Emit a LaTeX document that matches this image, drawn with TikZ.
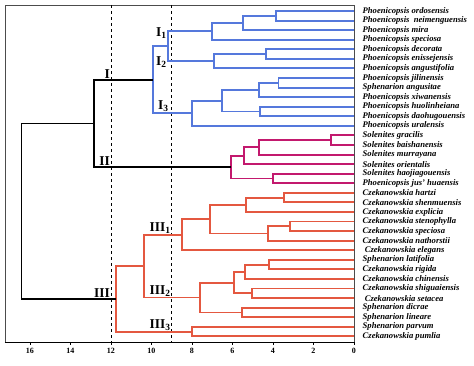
\documentclass[tikz,border=0pt]{standalone}
\usepackage{fontspec}
\setmainfont{Liberation Serif}
\usetikzlibrary{calc}

\definecolor{clblue}{RGB}{85,120,220}
\definecolor{clmag}{RGB}{195,25,110}
\definecolor{clred}{RGB}{228,88,64}

% join two subtrees at height #3
\newcommand{\dlink}[5][black]{%
  \coordinate (#2m) at ($(#4)!.5!(#5)$);
  \coordinate (#2h) at (#3,0);
  \coordinate (#2) at (#2h |- #2m);
  \draw[branch, #1] (#4) -| (#2) |- (#5);
}

\begin{document}
\begin{tikzpicture}[x=-20.25pt, y=-9.57pt,
  branch/.style={line width=1.9pt},
  leaf/.style={anchor=west, inner sep=0pt, xshift=8.5pt,
    font=\fontsize{8.6}{10}\selectfont\bfseries\itshape},
  grp/.style={font=\fontsize{13.5}{14}\selectfont\bfseries, inner sep=1pt},
  tick/.style={font=\fontsize{8}{9}\selectfont\bfseries, inner sep=2pt}]
  \useasboundingbox (17.481,-1.1494) rectangle (-5.926,36.991);

  \draw[gray!60!black, line width=0.9pt] (17.235,34.587) |- (0,-0.627) -- (0,34.587);
  \draw[line width=1pt] (17.235,34.587) -- (0,34.587);
  \foreach \d in {0,2,...,16}
    \draw[line width=0.8pt] (\d,34.587) -- ++(0,0.35) node[below, tick] {\d};

  \coordinate (v12) at (12,0);
  \coordinate (v9) at (9,0);
  \draw[dashed, line width=0.8pt] (12,-0.627) -- (12,34.587);
  \draw[dashed, line width=0.8pt] (9,-0.627) -- (9,34.587);

  \foreach \sp [count=\i] in {Phoenicopsis ordosensis, Phoenicopsis\ \ neimenguensis,
      Phoenicopsis mira, Phoenicopsis speciosa, Phoenicopsis decorata,
      Phoenicopsis enissejensis, Phoenicopsis angustifolia, Phoenicopsis jilinensis,
      Sphenarion angusitae, Phoenicopsis xiwanensis, Phoenicopsis huolinheiana,
      Phoenicopsis daohugouensis, Phoenicopsis uralensis, Solenites gracilis,
      Solenites baishanensis, Solenites murrayana, Solenites orientalis,
      Solenites haojiagouensis, Phoenicopsis jus' huaensis, Czekanowskia hartzi,
      Czekanowskia shenmuensis, Czekanowskia explicia, Czekanowskia stenophylla,
      Czekanowskia speciosa, Czekanowskia nathorstii, {\ Czekanowskia elegans},
      Sphenarion latifolia, Czekanowskia rigida, Czekanowskia chinensis,
      Czekanowskia shiguaiensis, {\ Czekanowskia setacea}, Sphenarion dicrae,
      Sphenarion lineare, Sphenarion parvum, Czekanowskia pumlia}{
    \coordinate (l\i) at (0,\i-1);
    \node[leaf] (t\i) at (l\i) {\sp};
  }

  % group I
  \dlink[clblue]{a12}{3.85}{l1}{l2}
  \dlink[clblue]{a123}{5.46}{a12}{l3}
  \dlink[clblue]{I1}{6.99}{a123}{l4}
  \dlink[clblue]{b56}{4.35}{l5}{l6}
  \dlink[clblue]{I2}{6.93}{b56}{l7}
  \dlink[clblue]{I12}{9.2}{I1}{I2}
  \dlink[clblue]{c89}{3.73}{l8}{l9}
  \dlink[clblue]{c810}{4.71}{c89}{l10}
  \dlink[clblue]{c1112}{4.62}{l11}{l12}
  \dlink[clblue]{c812}{6.5}{c810}{c1112}
  \dlink[clblue]{I3}{8.0}{c812}{l13}
  \dlink[clblue]{Igrp}{9.94}{I12}{I3}
  % group II
  \dlink[clmag]{d1415}{1.15}{l14}{l15}
  \dlink[clmag]{d16}{4.67}{d1415}{l16}
  \dlink[clmag]{d17}{5.41}{d16}{l17}
  \dlink[clmag]{d1819}{4.02}{l18}{l19}
  \dlink[clmag]{II}{6.07}{d17}{d1819}
  \dlink{III12x}{12.82}{Igrp}{II}
  % group III
  \dlink[clred]{e2021}{3.44}{l20}{l21}
  \dlink[clred]{e22}{5.33}{e2021}{l22}
  \dlink[clred]{e2324}{3.14}{l23}{l24}
  \dlink[clred]{e25}{4.23}{e2324}{l25}
  \dlink[clred]{e2025}{7.11}{e22}{e25}
  \dlink[clred]{III1}{8.5}{e2025}{l26}
  \dlink[clred]{f2728}{4.2}{l27}{l28}
  \dlink[clred]{f29}{5.37}{f2728}{l29}
  \dlink[clred]{f3031}{5.05}{l30}{l31}
  \dlink[clred]{f2731}{5.93}{f29}{f3031}
  \dlink[clred]{f3233}{5.54}{l32}{l33}
  \dlink[clred]{III2}{7.6}{f2731}{f3233}
  \dlink[clred]{III12}{10.35}{III1}{III2}
  \dlink[clred]{III3}{8.0}{l34}{l35}
  \dlink[clred]{III}{11.75}{III12}{III3}
  \dlink{root}{16.42}{III12x}{III}

  \node[grp, anchor=south east] (gI) at (v12 |- Igrp) {I};
  \node[grp, anchor=south east] (gII) at (v12 |- II) {II};
  \node[grp, anchor=south east] (gIII) at (v12 |- III) {III};
  \node[grp, anchor=east, yshift=-1.5pt] (gI1) at (I12 |- I1) {I\textsubscript{1}};
  \node[grp, anchor=east, yshift=-1pt] (gI2) at (I12 |- I2) {I\textsubscript{2}};
  \node[grp, anchor=south east, xshift=-2pt] (gI3) at (v9 |- I3) {I\textsubscript{3}};
  \node[grp, anchor=south east] (gIII1) at (v9 |- III1) {III\textsubscript{1}};
  \node[grp, anchor=south east] (gIII2) at (v9 |- III2) {III\textsubscript{2}};
  \node[grp, anchor=south east] (gIII3) at (v9 |- III3) {III\textsubscript{3}};
\end{tikzpicture}
\end{document}
